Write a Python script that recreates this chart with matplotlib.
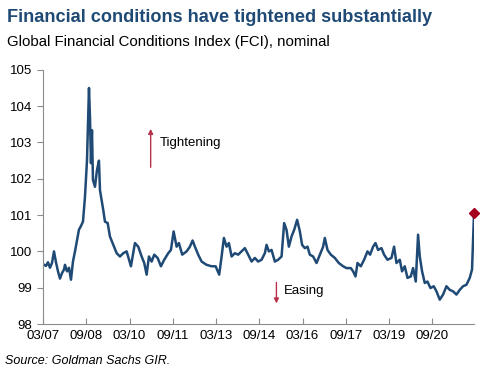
import matplotlib
matplotlib.use("Agg")
import matplotlib.pyplot as plt

# Global FCI (nominal); time in decimal years
years = [
    2007.167, 2007.271, 2007.340, 2007.409, 2007.479, 2007.548, 2007.617, 2007.687,
    2007.756, 2007.825, 2007.895, 2007.929, 2007.998, 2008.068, 2008.137, 2008.206,
    2008.276, 2008.345, 2008.414, 2008.484, 2008.553, 2008.622, 2008.692, 2008.761,
    2008.796, 2008.830, 2008.865, 2008.899, 2008.969, 2009.038, 2009.107, 2009.142,
    2009.256, 2009.315, 2009.409, 2009.488, 2009.603, 2009.721, 2009.835, 2009.949,
    2010.067, 2010.216, 2010.355, 2010.469, 2010.587, 2010.677, 2010.760, 2010.840,
    2010.933, 2011.024, 2011.141, 2011.256, 2011.370, 2011.509, 2011.602, 2011.696,
    2011.799, 2011.879, 2011.994, 2012.146, 2012.260, 2012.354, 2012.434, 2012.548,
    2012.666, 2012.839, 2013.012, 2013.151, 2013.276, 2013.359, 2013.439, 2013.532,
    2013.612, 2013.706, 2013.820, 2013.934, 2014.052, 2014.166, 2014.281, 2014.398,
    2014.513, 2014.627, 2014.745, 2014.859, 2014.918, 2014.998, 2015.091, 2015.206,
    2015.320, 2015.438, 2015.528, 2015.611, 2015.691, 2015.784, 2015.874, 2015.978,
    2016.072, 2016.151, 2016.245, 2016.338, 2016.418, 2016.533, 2016.650, 2016.765,
    2016.879, 2016.938, 2017.031, 2017.146, 2017.284, 2017.423, 2017.572, 2017.690,
    2017.839, 2017.919, 2018.002, 2018.071, 2018.186, 2018.300, 2018.418, 2018.508,
    2018.611, 2018.694, 2018.785, 2018.902, 2018.993, 2019.110, 2019.249, 2019.339,
    2019.422, 2019.537, 2019.616, 2019.710, 2019.804, 2019.918, 2019.998, 2020.091,
    2020.171, 2020.230, 2020.310, 2020.403, 2020.497, 2020.601, 2020.715, 2020.809,
    2020.923, 2021.037, 2021.155, 2021.269, 2021.384, 2021.501, 2021.616, 2021.730,
    2021.848, 2021.962, 2022.042, 2022.111,
]
fci = [
    99.65, 99.60, 99.70, 99.55, 99.68, 100.00, 99.70, 99.45,
    99.25, 99.40, 99.50, 99.63, 99.45, 99.55, 99.22, 99.72,
    100.00, 100.30, 100.60, 100.70, 100.82, 101.50, 102.50, 104.50,
    103.70, 102.43, 103.34, 101.97, 101.78, 102.24, 102.50, 101.69,
    101.14, 100.82, 100.78, 100.41, 100.18, 99.95, 99.86, 99.95,
    100.00, 99.59, 100.23, 100.13, 99.86, 99.68, 99.36, 99.86,
    99.72, 99.91, 99.82, 99.59, 99.77, 99.95, 100.04, 100.55,
    100.13, 100.23, 99.91, 100.00, 100.13, 100.30, 100.13, 99.91,
    99.72, 99.63, 99.59, 99.59, 99.36, 99.86, 100.37, 100.13,
    100.23, 99.86, 99.95, 99.91, 100.00, 100.09, 99.91, 99.72,
    99.82, 99.72, 99.77, 99.95, 100.18, 100.00, 100.04, 99.72,
    99.77, 99.86, 100.78, 100.59, 100.13, 100.41, 100.59, 100.87,
    100.55, 100.18, 100.09, 100.13, 99.91, 99.86, 99.68, 99.91,
    100.13, 100.37, 100.04, 99.91, 99.82, 99.68, 99.59, 99.54,
    99.54, 99.45, 99.31, 99.68, 99.59, 99.77, 100.00, 99.91,
    100.13, 100.23, 100.04, 100.09, 99.91, 99.77, 99.82, 100.13,
    99.68, 99.77, 99.45, 99.59, 99.27, 99.31, 99.54, 99.17,
    100.46, 99.86, 99.45, 99.13, 99.17, 98.99, 99.04, 98.90,
    98.67, 98.81, 99.04, 98.94, 98.90, 98.81, 98.94, 99.04,
    99.08, 99.27, 99.50, 101.05,
]

x_tick_pos = [2007.167, 2008.667, 2010.167, 2011.667, 2013.167,
              2014.667, 2016.167, 2017.667, 2019.167, 2020.667]
x_tick_labels = ["03/07", "09/08", "03/10", "09/11", "03/13",
                 "09/14", "03/16", "09/17", "03/19", "09/20"]
y_ticks = [98, 99, 100, 101, 102, 103, 104, 105]

NAVY = "#1f4a75"
RED = "#a3001f"
ARROW = "#b8304a"

plt.rcParams["font.family"] = ["Liberation Sans", "DejaVu Sans"]

fig = plt.figure(figsize=(4.92, 3.81), dpi=100)
ax = fig.add_axes([0.0874, 0.1496, 0.876, 0.667])

ax.plot(years, fci, color=NAVY, linewidth=1.8)
ax.plot(years[-1], fci[-1], marker="D", color=RED, markersize=5, clip_on=False, zorder=5)

# direction arrows
ax.annotate("", xy=(2010.90, 103.45), xytext=(2010.90, 102.24),
            arrowprops=dict(arrowstyle="-|>", color=ARROW, lw=1, mutation_scale=7))
ax.text(2011.22, 102.98, "Tightening", fontsize=9.5, va="center")
ax.annotate("", xy=(2015.26, 98.49), xytext=(2015.26, 99.22),
            arrowprops=dict(arrowstyle="-|>", color=ARROW, lw=1, mutation_scale=7))
ax.text(2015.52, 98.9, "Easing", fontsize=9.5, va="center")

ax.set_ylim(98, 105)
ax.set_yticks(y_ticks)
ax.set_xlim(2007.167, 2022.11)
ax.set_xticks(x_tick_pos)
ax.set_xticklabels(x_tick_labels)

for side in ["top", "right"]:
    ax.spines[side].set_visible(False)
for side in ["left", "bottom"]:
    ax.spines[side].set_color("#8c8c8c")
ax.tick_params(axis="x", direction="in", length=4, color="#8c8c8c", labelsize=9.5, pad=4)
ax.tick_params(axis="y", direction="out", length=4, color="#8c8c8c", labelsize=9.5)

fig.text(0.014, 0.955, "Financial conditions have tightened substantially",
         fontsize=13.1, fontweight="bold", color=NAVY, va="center")
fig.text(0.014, 0.89, "Global Financial Conditions Index (FCI), nominal",
         fontsize=10.8, color="black", va="center")
fig.text(0.010, 0.052, "Source: Goldman Sachs GIR.", fontsize=9, style="italic", va="center")

fig.savefig("out.png", dpi=100)
